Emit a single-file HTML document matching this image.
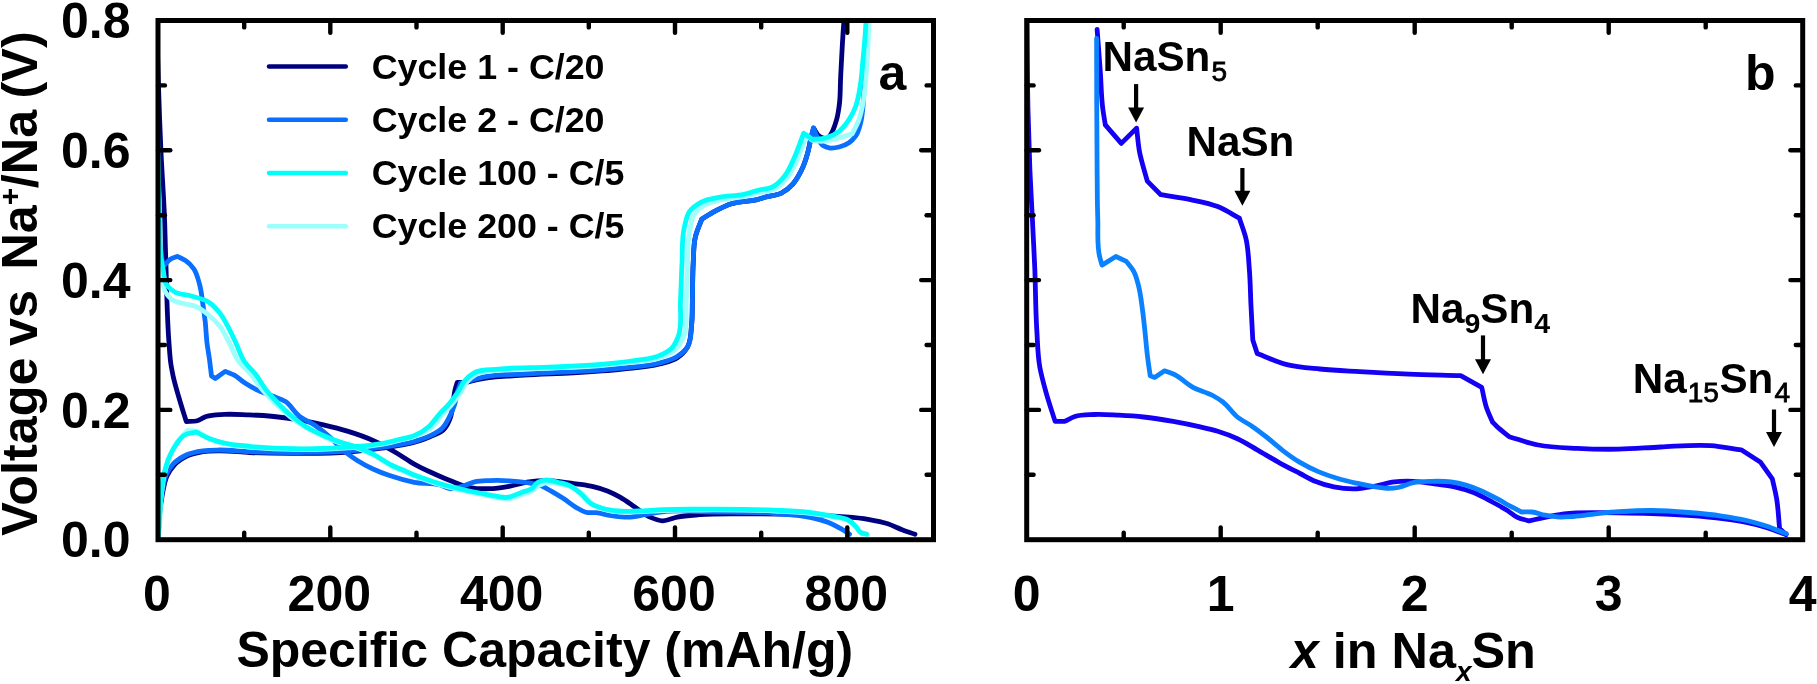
<!DOCTYPE html>
<html lang="en">
<head>
<meta charset="utf-8">
<title>Voltage profiles of Sn anodes in Na cells</title>
<style>
html,body{margin:0;padding:0;background:#fff;}
body{width:1817px;height:684px;overflow:hidden;}
svg{display:block;filter:blur(0.55px);}
text{font-family:"Liberation Sans",Arial,Helvetica,sans-serif;font-weight:bold;fill:#000;}
.tk{font-size:50px;}
.ax{font-size:50px;}
.lg{font-size:35.8px;}
.an{font-size:42.2px;}
.sb{font-size:28px;font-weight:normal;stroke:#000;stroke-width:0.8px;}
.sbb{font-size:28.5px;font-weight:bold;}
</style>
</head>
<body>
<svg width="1817" height="684" viewBox="0 0 1817 684">
<rect x="0" y="0" width="1817" height="684" fill="#fff"/>
<g id="panel-a">
<clipPath id="clipA"><rect x="158.0" y="20.5" width="775.5" height="519.2"/></clipPath>
<g clip-path="url(#clipA)">
<path d="M156.5 20.0C157.2 42.0 157.8 64.0 158.5 86.0C159.2 107.3 159.9 128.7 160.9 150.0C161.9 171.7 163.5 193.3 164.4 215.0C165.0 229.0 165.2 243.0 165.7 257.0C166.7 285.7 166.8 314.4 169.0 343.0C169.5 349.6 169.8 356.2 170.7 362.8C171.3 367.2 172.2 371.6 173.1 376.0C174.7 383.3 176.8 390.4 178.9 397.5C181.2 405.5 183.8 413.5 186.3 421.5C189.6 421.3 193.1 421.7 196.3 421.0C199.8 420.2 202.8 417.6 206.2 416.5C211.9 414.7 218.3 414.8 224.3 414.4C232.5 413.9 240.8 414.6 249.1 414.9C257.4 415.2 265.7 415.7 273.9 416.5C282.2 417.3 290.5 418.4 298.7 419.8C307.0 421.2 315.3 422.9 323.5 424.8C331.8 426.7 340.1 428.8 348.2 431.4C356.6 434.0 365.0 436.9 373.0 440.5C381.5 444.3 389.7 448.9 397.8 453.7C403.4 457.0 408.6 460.9 414.3 464.1C419.7 467.1 425.2 469.7 430.8 472.3C437.1 475.2 443.5 478.1 450.0 480.6C456.5 483.1 462.9 486.2 469.7 487.5C476.1 488.8 482.9 488.9 489.4 488.7C496.0 488.5 502.7 487.4 509.2 486.3C515.9 485.1 522.3 482.7 529.0 481.8C536.3 480.8 543.8 480.6 551.2 480.8C559.5 481.1 567.7 482.6 575.9 483.8C581.7 484.7 587.5 485.3 593.2 486.7C598.2 487.9 603.2 489.3 608.0 491.2C612.3 492.9 616.4 495.1 620.4 497.4C625.5 500.3 630.3 504.0 635.2 507.3C640.1 510.6 644.6 514.7 650.0 517.1C653.9 518.8 658.2 520.6 662.4 520.8C667.3 521.0 672.2 518.1 677.2 517.1C684.5 515.7 692.1 515.3 699.5 514.7C716.1 513.4 732.8 513.9 749.4 513.9C765.9 513.9 782.3 513.9 798.8 514.4C812.0 514.8 825.2 515.4 838.4 516.4C848.3 517.2 858.3 517.6 868.0 519.3C874.7 520.5 881.4 521.7 887.8 523.8C892.9 525.5 897.6 528.1 902.6 530.0C906.7 531.5 910.9 532.8 915.0 534.2" fill="none" stroke="#00007f" stroke-width="4.8" stroke-linejoin="round" stroke-linecap="round"/>
<path d="M158.0 539.0C158.8 528.3 159.0 517.6 160.4 507.0C161.1 502.0 161.8 497.0 162.8 492.0C163.9 486.6 164.7 480.9 167.0 476.0C168.7 472.3 171.1 468.6 173.8 465.6C177.3 461.7 182.1 458.5 186.8 456.2C191.8 453.8 197.6 452.6 203.2 451.7C208.6 450.8 214.2 450.9 219.7 450.8C229.6 450.7 239.5 452.1 249.4 452.5C265.9 453.2 282.5 453.4 299.0 453.3C315.5 453.2 332.1 453.3 348.5 452.0C359.6 451.1 370.6 449.8 381.6 448.2C392.7 446.6 403.9 445.5 414.6 442.3C419.8 440.7 425.0 438.9 430.0 436.7C434.6 434.7 440.0 433.2 443.5 429.8C447.0 426.4 449.2 421.2 450.8 416.5C452.2 412.2 452.3 407.5 453.0 403.0C453.7 398.7 454.0 394.3 455.0 390.0C455.6 387.4 456.5 384.9 457.3 382.3C459.6 382.4 462.0 382.6 464.3 382.5C468.3 382.3 472.1 380.7 476.0 379.9C478.7 379.4 481.3 378.9 484.0 378.4C497.0 376.2 510.3 376.1 523.5 375.2C540.0 374.1 556.5 373.8 573.0 372.8C589.5 371.8 606.0 370.8 622.4 369.0C634.8 367.6 647.5 367.3 659.5 364.0C665.5 362.3 672.3 361.3 677.3 357.8C681.2 355.1 685.0 351.2 687.4 347.2C691.2 340.9 690.8 332.3 691.6 324.7C692.5 316.5 692.2 308.2 692.4 300.0C692.7 287.8 692.5 275.6 693.2 263.5C693.7 254.5 693.3 245.1 695.5 236.4C697.0 230.5 699.7 224.9 701.8 219.1C705.9 216.6 709.9 214.0 714.1 211.7C719.7 208.7 725.4 205.8 731.4 203.8C740.0 200.9 749.8 201.9 758.6 199.3C760.7 198.7 762.7 197.9 764.8 197.3C770.2 195.7 776.4 195.7 781.3 193.2C785.6 191.0 789.6 187.7 792.8 184.1C796.2 180.3 798.8 175.5 801.1 170.9C804.0 165.2 806.0 159.0 807.7 152.8C809.1 147.9 809.8 142.8 811.0 137.9C811.8 134.6 812.7 131.3 813.5 128.0C815.4 130.7 816.7 134.3 819.3 136.2C821.6 137.9 824.8 138.4 827.5 139.5C829.2 136.8 831.1 134.2 832.5 131.3C834.3 127.6 835.5 123.6 836.6 119.7C837.8 115.4 838.4 110.9 839.1 106.5C840.6 96.4 840.1 86.2 840.7 76.0C841.6 58.7 842.4 41.3 843.7 24.0C843.8 22.7 843.9 21.3 844.0 20.0" fill="none" stroke="#00007f" stroke-width="4.8" stroke-linejoin="round" stroke-linecap="round"/>
<path d="M156.0 20.0C156.5 53.3 157.0 86.7 157.5 120.0C157.8 140.7 157.9 161.3 158.5 182.0C158.8 193.0 159.3 204.0 159.7 215.0C160.2 228.0 158.9 241.2 161.0 254.0C161.5 257.1 162.2 260.1 162.8 263.2L164.9 264.7C166.6 263.0 168.0 260.9 170.0 259.5C172.1 258.0 174.9 257.4 177.3 256.4C180.0 257.8 183.0 258.9 185.5 260.6C188.7 262.8 191.6 265.7 193.8 268.8C196.9 273.3 198.1 279.1 199.6 284.5C201.4 290.9 201.9 297.7 202.9 304.3C203.8 310.4 204.6 316.4 205.3 322.5C206.0 329.3 206.2 336.2 207.0 343.0C207.7 348.5 208.7 354.0 209.5 359.5C210.2 365.0 210.8 370.5 211.5 376.0L215.3 378.5L225.2 371.4C228.2 372.7 231.4 373.6 234.3 375.2C237.9 377.2 240.8 380.3 244.2 382.6C248.4 385.4 252.8 387.9 257.4 390.1C262.2 392.4 267.4 393.9 272.3 395.9C276.7 397.7 281.6 399.0 285.5 401.6C290.8 405.1 293.7 411.7 298.7 415.7C303.6 419.7 309.9 422.0 315.2 425.6C321.0 429.6 326.6 433.9 331.7 438.8C334.6 441.6 337.1 444.9 340.0 447.6C345.0 452.3 350.7 456.3 356.5 460.0C361.8 463.4 367.3 466.4 373.0 469.0C378.4 471.5 384.0 473.7 389.6 475.6C397.7 478.4 405.9 480.7 414.3 482.3C422.7 483.9 431.8 482.6 440.0 485.0C443.4 486.0 446.5 488.3 449.9 488.7C453.9 489.1 458.2 487.4 462.2 486.3C466.4 485.1 470.3 482.8 474.6 481.8C479.4 480.7 484.5 480.8 489.4 480.6C496.0 480.3 502.6 480.4 509.2 480.8C515.0 481.1 520.8 481.6 526.5 482.5C531.5 483.3 536.7 483.9 541.3 485.8C544.8 487.2 547.9 489.3 551.2 491.2C555.4 493.6 559.5 496.0 563.5 498.6C567.7 501.3 571.5 504.8 575.9 507.3C579.1 509.1 582.3 511.3 585.8 512.2C588.9 513.0 592.4 512.4 595.7 512.7C601.5 513.3 607.2 515.2 613.0 515.9C617.9 516.5 622.9 517.2 627.8 517.1C633.6 517.0 639.3 515.6 645.1 514.7C650.9 513.8 656.6 512.4 662.4 511.8C670.6 510.9 678.9 510.9 687.1 511.0C691.4 511.1 695.7 511.3 700.0 511.5C724.7 512.4 749.5 511.5 774.1 513.5C786.5 514.5 799.1 514.9 811.2 517.6C817.0 518.9 823.0 520.3 828.5 522.5C832.7 524.2 836.8 526.4 840.8 528.7C843.8 530.4 846.6 532.4 849.5 534.2" fill="none" stroke="#0a6eff" stroke-width="4.8" stroke-linejoin="round" stroke-linecap="round"/>
<path d="M158.0 539.0C158.7 527.8 158.8 516.5 160.2 505.4C160.8 500.4 161.4 495.4 162.4 490.5C163.5 484.9 164.1 479.0 166.5 474.0C168.2 470.5 170.4 467.0 173.1 464.1C176.7 460.3 181.5 457.2 186.3 455.0C191.4 452.7 197.3 451.7 202.9 450.9C208.3 450.1 213.9 450.1 219.4 450.0C229.3 449.9 239.2 451.3 249.1 451.7C265.6 452.4 282.2 452.6 298.7 452.5C315.2 452.4 331.8 452.5 348.2 451.2C359.3 450.3 370.3 449.0 381.3 447.4C392.4 445.8 403.6 444.7 414.3 441.5C419.5 439.9 424.8 438.3 429.7 435.9C434.0 433.8 438.7 431.8 442.0 428.5C445.4 425.2 447.6 420.4 449.8 416.1C451.6 412.5 453.2 408.8 454.5 405.0C455.9 400.8 456.3 396.3 457.5 392.0C458.4 389.0 459.5 386.0 460.5 383.0C463.4 382.3 466.3 381.6 469.2 380.8C474.1 379.5 479.0 377.9 484.0 376.8C496.9 374.1 510.3 374.9 523.5 374.1C540.0 373.1 556.5 372.7 573.0 371.7C589.5 370.7 606.0 369.8 622.4 368.0C634.8 366.6 647.5 366.4 659.5 363.0C665.4 361.3 671.7 360.0 676.8 356.8C680.8 354.2 685.1 350.8 687.6 346.9C691.5 340.9 690.8 332.2 691.6 324.7C692.5 316.5 692.2 308.2 692.4 300.0C692.7 287.8 692.5 275.6 693.2 263.5C693.7 254.5 693.3 245.1 695.5 236.4C697.0 230.5 699.7 224.9 701.8 219.1C705.9 216.6 709.9 214.0 714.1 211.7C719.7 208.7 725.4 205.8 731.4 203.8C740.0 200.9 749.8 201.9 758.6 199.3C760.7 198.7 762.7 197.9 764.8 197.3C770.2 195.7 776.4 195.7 781.3 193.2C785.6 191.0 789.6 187.7 792.8 184.1C796.2 180.3 798.8 175.5 801.1 170.9C804.0 165.2 806.0 159.0 807.7 152.8C809.1 147.9 809.8 142.8 811.0 137.9C811.8 134.6 812.7 131.3 813.5 128.0C814.9 131.3 815.9 134.8 817.6 137.9C819.0 140.5 820.3 143.6 822.6 145.3C824.4 146.6 826.9 147.4 829.2 147.8C832.4 148.4 835.9 147.8 839.1 147.0C842.5 146.2 846.1 144.8 849.0 142.8C851.5 141.1 853.8 138.7 855.6 136.2C858.3 132.4 859.4 127.5 860.6 123.0C862.0 117.7 862.4 112.0 863.0 106.5C863.5 101.0 863.6 95.5 863.9 90.0C864.4 80.0 864.6 70.0 865.0 60.0C865.5 48.3 866.0 36.7 866.5 25.0C866.6 23.3 866.6 21.7 866.7 20.0" fill="none" stroke="#0a6eff" stroke-width="4.8" stroke-linejoin="round" stroke-linecap="round"/>
<path d="M156.0 20.0C156.4 53.3 156.8 86.7 157.3 120.0C157.6 140.7 157.7 161.3 158.3 182.0C158.6 193.0 159.2 204.0 159.5 215.0C159.9 229.0 159.5 243.0 160.5 257.0C160.9 262.7 161.3 268.4 162.0 274.0C162.7 279.7 162.3 286.0 164.9 291.0C166.5 294.1 168.8 297.3 171.5 299.4C174.6 301.7 179.1 302.3 183.0 303.5C187.4 304.8 192.2 305.0 196.3 306.8C200.4 308.6 204.2 311.5 207.8 314.3C212.0 317.7 216.1 321.6 219.4 325.8C223.5 330.9 226.2 337.2 229.3 343.0C232.5 349.0 234.6 355.7 238.5 361.2C242.0 366.1 247.1 369.8 251.0 374.4C255.0 379.1 258.1 384.6 262.0 389.3C266.3 394.5 271.1 399.4 276.0 404.1C280.5 408.4 285.1 412.6 290.0 416.5C294.9 420.4 300.1 424.1 305.5 427.3C311.5 430.9 317.9 433.9 324.3 436.7C329.7 439.1 335.2 441.4 340.8 443.3C346.2 445.2 351.9 446.2 357.3 448.2C362.9 450.2 368.5 452.7 373.8 455.4C379.5 458.3 384.7 462.3 390.4 465.3C395.7 468.1 401.4 470.3 406.9 472.7C412.4 475.0 417.8 477.3 423.4 479.3C429.1 481.4 434.9 483.3 440.8 485.0C448.9 487.4 457.2 489.3 465.5 491.2C473.7 493.0 481.9 494.6 490.2 496.1C496.1 497.2 502.2 499.5 508.0 499.0C512.9 498.5 517.7 496.1 522.5 494.4C525.8 493.2 529.4 492.5 532.4 490.7C534.8 489.3 536.6 486.9 539.0 485.5C541.2 484.3 543.6 483.1 546.0 482.6C550.3 481.6 555.1 483.2 559.6 484.0C564.0 484.8 568.5 485.7 572.5 487.5C576.3 489.2 579.7 491.9 583.0 494.5C586.6 497.4 589.2 501.7 593.0 504.3C596.4 506.6 600.5 508.3 604.5 509.5C608.9 510.9 613.7 511.4 618.4 511.8C624.9 512.4 631.6 512.0 638.2 511.8C646.4 511.6 654.7 510.8 662.9 510.5C675.4 510.0 688.0 510.1 700.5 510.0C725.2 509.9 749.9 509.8 774.6 511.0C787.0 511.6 799.4 511.9 811.7 513.5C819.1 514.5 826.6 515.6 833.9 517.2C838.9 518.3 844.5 518.4 848.8 520.9C851.5 522.5 854.0 524.8 856.2 527.1C858.0 529.0 859.0 531.9 861.1 533.2C862.8 534.3 865.2 534.4 867.3 535.0" fill="none" stroke="#9cfffb" stroke-width="4.8" stroke-linejoin="round" stroke-linecap="round"/>
<path d="M158.0 539.0C158.4 535.5 158.8 532.0 159.2 528.5C160.2 518.6 160.0 508.7 161.0 498.8C161.9 490.5 162.6 482.1 164.5 474.0C166.0 467.4 167.8 460.7 170.5 454.5C172.5 450.0 174.7 445.5 177.5 441.5C180.3 437.5 184.2 434.2 187.5 430.5C190.8 430.8 194.4 430.6 197.5 431.5C201.7 432.8 205.0 436.6 209.0 438.5C214.0 440.9 219.6 442.3 225.0 443.6C232.9 445.5 241.0 446.2 249.1 447.1C260.1 448.3 271.2 448.8 282.2 449.2C293.2 449.6 304.2 449.7 315.2 449.5C326.2 449.3 337.2 448.8 348.2 447.9C359.3 447.0 370.4 446.3 381.3 444.3C387.6 443.2 393.8 441.6 400.0 440.1C404.9 438.9 409.9 438.0 414.6 436.3C420.3 434.2 426.3 431.8 431.0 428.0C435.1 424.6 437.9 419.5 441.5 415.5C444.6 412.1 448.0 409.0 451.0 405.5C454.4 401.5 457.5 397.3 460.3 393.0C462.5 389.6 463.9 385.6 466.5 382.5C469.1 379.4 472.5 376.5 476.0 374.5C482.5 370.8 491.2 371.3 498.8 370.2C515.1 367.9 531.8 368.9 548.3 368.2C564.8 367.5 581.3 367.2 597.7 365.8C610.1 364.8 622.4 363.5 634.7 361.8C643.3 360.6 652.4 360.5 660.5 357.5C665.3 355.7 670.7 353.8 674.5 350.5C678.0 347.4 680.7 342.7 682.8 338.5C688.4 327.3 685.4 312.9 686.2 300.0C686.9 287.9 686.8 275.7 687.5 263.5C688.1 251.8 687.5 239.9 690.0 228.5C691.0 223.8 691.5 218.4 694.0 214.5C696.4 210.7 700.6 207.5 704.5 205.2C709.2 202.4 715.1 201.4 720.5 200.0C728.3 198.0 736.6 198.3 744.5 196.5C748.9 195.5 753.2 194.1 757.5 193.0C763.3 191.5 769.9 191.6 775.0 188.8C779.8 186.2 784.0 181.8 787.5 177.5C791.1 173.0 793.5 167.3 796.0 162.0C798.5 156.8 800.4 151.4 802.5 146.0C804.0 142.3 805.4 138.7 806.8 135.0C808.5 136.7 810.0 139.0 812.0 140.0C814.1 141.1 816.9 141.0 819.3 141.2C825.9 141.7 832.6 139.5 839.1 137.9C843.6 136.8 847.9 135.2 852.3 133.8C854.5 129.1 857.2 124.6 858.9 119.7C860.8 114.4 862.0 108.8 863.0 103.2C863.8 98.8 864.2 94.4 864.7 90.0C865.9 79.9 866.5 69.7 867.2 59.5C868.0 48.0 868.3 36.4 868.8 24.9C868.9 23.3 868.9 21.6 869.0 20.0" fill="none" stroke="#9cfffb" stroke-width="4.8" stroke-linejoin="round" stroke-linecap="round"/>
<path d="M156.0 20.0C156.5 53.3 157.0 86.7 157.5 120.0C157.8 140.7 157.9 161.3 158.5 182.0C158.8 193.0 159.3 204.0 159.7 215.0C160.2 229.0 158.9 243.2 160.9 257.0C161.5 261.2 162.4 265.4 163.2 269.6C164.2 274.6 163.9 280.4 166.5 284.5C168.4 287.5 171.7 290.1 174.8 292.0C179.5 294.8 185.9 294.4 191.3 296.0C197.5 297.9 204.3 299.1 209.5 302.7C213.3 305.3 216.5 309.0 219.4 312.6C222.6 316.6 225.1 321.3 227.6 325.8C230.7 331.4 233.2 337.2 235.9 343.0C238.7 349.0 240.6 355.7 244.2 361.2C247.4 366.0 252.2 369.8 255.7 374.4C259.3 379.1 262.0 384.6 265.6 389.3C269.6 394.5 274.3 399.4 278.9 404.1C283.1 408.4 287.5 412.7 292.1 416.5C296.8 420.4 301.7 424.1 306.9 427.3C312.2 430.5 317.9 433.0 323.5 435.5C328.9 437.9 334.4 440.2 340.0 442.1C345.4 444.0 351.1 445.0 356.5 447.0C362.1 449.0 367.7 451.5 373.0 454.2C378.7 457.1 383.9 461.1 389.6 464.1C394.9 466.9 400.6 469.1 406.1 471.5C411.6 473.8 417.0 476.1 422.6 478.1C428.3 480.2 434.1 482.1 440.0 483.8C448.1 486.2 456.4 488.1 464.7 490.0C472.9 491.8 481.1 493.5 489.4 494.9C495.1 495.9 501.1 498.0 506.7 497.4C511.7 496.9 516.6 494.2 521.5 492.4C524.8 491.2 528.5 490.6 531.4 488.7C533.8 487.1 535.2 483.9 537.6 482.5C539.8 481.2 542.5 480.4 545.0 480.1C549.4 479.5 554.1 481.4 558.6 482.5C562.8 483.5 567.2 484.3 571.0 486.3C574.6 488.2 577.7 491.0 580.8 493.7C584.3 496.7 586.9 501.0 590.7 503.5C594.4 505.9 598.8 507.3 603.1 508.5C607.9 509.9 612.9 510.5 617.9 511.0C624.4 511.6 631.1 511.2 637.7 511.0C645.9 510.8 654.2 510.0 662.4 509.7C674.9 509.2 687.5 509.3 700.0 509.2C724.7 509.1 749.4 509.0 774.1 510.2C786.5 510.8 798.9 511.1 811.2 512.7C818.6 513.7 826.1 514.8 833.4 516.4C838.4 517.5 844.0 517.6 848.3 520.1C851.0 521.7 853.5 524.0 855.7 526.3C857.5 528.2 858.5 531.1 860.6 532.4C862.3 533.5 864.7 533.6 866.8 534.2" fill="none" stroke="#00fff8" stroke-width="4.8" stroke-linejoin="round" stroke-linecap="round"/>
<path d="M158.0 539.0C158.3 535.5 158.7 532.0 159.0 528.5C159.8 518.6 159.7 508.7 160.7 498.8C161.5 490.5 162.1 482.1 164.0 474.0C165.5 467.8 167.2 461.6 169.8 455.8C171.7 451.7 173.8 447.7 176.4 444.1C178.8 440.8 181.3 437.0 184.7 435.0C188.0 433.1 192.4 433.1 196.3 432.2C200.1 434.1 203.8 436.4 207.8 438.0C213.1 440.2 218.7 441.7 224.3 443.0C232.4 444.9 240.8 445.4 249.1 446.3C260.1 447.4 271.2 448.0 282.2 448.4C293.2 448.8 304.2 448.9 315.2 448.7C326.2 448.5 337.2 448.0 348.2 447.1C359.3 446.2 370.4 445.5 381.3 443.5C387.6 442.4 393.8 440.8 400.0 439.3C404.9 438.1 410.0 437.4 414.6 435.5C419.8 433.3 424.8 430.2 429.0 426.5C433.0 423.0 435.9 418.0 439.5 414.0C442.6 410.6 446.0 407.5 449.0 404.0C452.4 400.0 455.5 395.8 458.3 391.5C460.5 388.1 461.9 384.1 464.5 381.0C467.2 377.8 470.6 374.8 474.1 372.8C481.1 368.8 490.5 370.1 498.8 369.2C515.2 367.4 531.8 368.0 548.3 367.2C564.8 366.5 581.3 366.1 597.7 364.7C610.1 363.6 622.5 362.5 634.7 360.5C643.0 359.1 651.9 359.0 659.5 355.6C663.8 353.7 668.6 351.6 671.8 348.2C674.6 345.2 676.4 340.9 678.0 337.1C682.7 325.9 679.8 312.4 680.5 300.0C681.2 287.8 681.3 275.7 682.0 263.5C682.7 251.2 681.5 238.4 684.5 226.5C685.8 221.5 686.6 215.8 689.4 211.7C692.3 207.5 697.2 204.2 701.8 201.8C707.0 199.1 713.3 198.5 719.1 197.3C727.2 195.7 735.7 196.2 743.8 194.4C748.1 193.4 752.2 191.9 756.5 190.7C762.0 189.2 768.2 189.3 773.0 186.6C777.5 184.1 781.4 180.0 784.6 175.9C788.1 171.5 790.4 166.1 792.8 161.0C795.4 155.7 797.4 150.0 799.5 144.5C800.9 140.8 802.2 137.0 803.6 133.3L812.7 139.5C817.1 139.0 821.7 139.1 825.9 137.9C830.6 136.5 835.3 134.3 839.1 131.3C843.0 128.2 846.2 123.9 849.0 119.7C851.7 115.6 853.9 111.1 855.6 106.5C857.7 101.0 858.6 95.1 859.7 89.3C861.6 79.5 862.0 69.4 863.0 59.5C864.1 48.0 865.3 36.5 865.8 24.9C865.9 23.3 865.9 21.6 866.0 20.0" fill="none" stroke="#00fff8" stroke-width="4.8" stroke-linejoin="round" stroke-linecap="round"/>
</g>
<g stroke="#000" stroke-width="4.4" stroke-linecap="round">
<line x1="330.3" y1="539.7" x2="330.3" y2="527.4"/>
<line x1="330.3" y1="20.5" x2="330.3" y2="32.8"/>
<line x1="502.7" y1="539.7" x2="502.7" y2="527.4"/>
<line x1="502.7" y1="20.5" x2="502.7" y2="32.8"/>
<line x1="675.0" y1="539.7" x2="675.0" y2="527.4"/>
<line x1="675.0" y1="20.5" x2="675.0" y2="32.8"/>
<line x1="847.3" y1="539.7" x2="847.3" y2="527.4"/>
<line x1="847.3" y1="20.5" x2="847.3" y2="32.8"/>
<line x1="244.2" y1="539.7" x2="244.2" y2="532.8"/>
<line x1="244.2" y1="20.5" x2="244.2" y2="27.4"/>
<line x1="416.5" y1="539.7" x2="416.5" y2="532.8"/>
<line x1="416.5" y1="20.5" x2="416.5" y2="27.4"/>
<line x1="588.8" y1="539.7" x2="588.8" y2="532.8"/>
<line x1="588.8" y1="20.5" x2="588.8" y2="27.4"/>
<line x1="761.2" y1="539.7" x2="761.2" y2="532.8"/>
<line x1="761.2" y1="20.5" x2="761.2" y2="27.4"/>
<line x1="158.0" y1="85.4" x2="164.9" y2="85.4"/>
<line x1="933.5" y1="85.4" x2="926.6" y2="85.4"/>
<line x1="158.0" y1="150.3" x2="170.3" y2="150.3"/>
<line x1="933.5" y1="150.3" x2="921.2" y2="150.3"/>
<line x1="158.0" y1="215.2" x2="164.9" y2="215.2"/>
<line x1="933.5" y1="215.2" x2="926.6" y2="215.2"/>
<line x1="158.0" y1="280.1" x2="170.3" y2="280.1"/>
<line x1="933.5" y1="280.1" x2="921.2" y2="280.1"/>
<line x1="158.0" y1="345.0" x2="164.9" y2="345.0"/>
<line x1="933.5" y1="345.0" x2="926.6" y2="345.0"/>
<line x1="158.0" y1="409.9" x2="170.3" y2="409.9"/>
<line x1="933.5" y1="409.9" x2="921.2" y2="409.9"/>
<line x1="158.0" y1="474.8" x2="164.9" y2="474.8"/>
<line x1="933.5" y1="474.8" x2="926.6" y2="474.8"/>
</g>
<rect x="158.0" y="20.5" width="775.5" height="519.2" fill="none" stroke="#000" stroke-width="5.0" stroke-linejoin="miter"/>
<line x1="269" y1="66.6" x2="345.8" y2="66.6" stroke="#00007f" stroke-width="4.5" stroke-linecap="round"/>
<text class="lg" x="371.7" y="78.8">Cycle 1 - C/20</text>
<line x1="269" y1="119.8" x2="345.8" y2="119.8" stroke="#0a6eff" stroke-width="4.5" stroke-linecap="round"/>
<text class="lg" x="371.7" y="132.0">Cycle 2 - C/20</text>
<line x1="269" y1="173.0" x2="345.8" y2="173.0" stroke="#00fff8" stroke-width="4.5" stroke-linecap="round"/>
<text class="lg" x="371.7" y="185.2">Cycle 100 - C/5</text>
<line x1="269" y1="226.2" x2="345.8" y2="226.2" stroke="#9cfffb" stroke-width="4.5" stroke-linecap="round"/>
<text class="lg" x="371.7" y="238.4">Cycle 200 - C/5</text>
<text class="tk" x="130.5" y="38.1" text-anchor="end">0.8</text>
<text class="tk" x="130.5" y="167.9" text-anchor="end">0.6</text>
<text class="tk" x="130.5" y="297.7" text-anchor="end">0.4</text>
<text class="tk" x="130.5" y="427.5" text-anchor="end">0.2</text>
<text class="tk" x="130.5" y="557.3" text-anchor="end">0.0</text>
<text class="tk" x="157.0" y="610.5" text-anchor="middle">0</text>
<text class="tk" x="329.3" y="610.5" text-anchor="middle">200</text>
<text class="tk" x="501.7" y="610.5" text-anchor="middle">400</text>
<text class="tk" x="674.0" y="610.5" text-anchor="middle">600</text>
<text class="tk" x="846.3" y="610.5" text-anchor="middle">800</text>
<text class="ax" x="544.8" y="667" text-anchor="middle">Specific Capacity (mAh/g)</text>
<text class="ax" style="font-size:50.4px" transform="translate(37.2 283.5) rotate(-90)" text-anchor="middle">Voltage<tspan dx="-2.5"> vs</tspan><tspan dx="6.3"> Na</tspan><tspan font-size="30" dy="-17">+</tspan><tspan dy="17" dx="-0.5">/Na</tspan><tspan dx="-2.7"> (V)</tspan></text>
<text class="tk" x="892.5" y="90.2" text-anchor="middle">a</text>
</g>
<g id="panel-b">
<clipPath id="clipB"><rect x="1026.7" y="20.5" width="776.0" height="519.2"/></clipPath>
<g clip-path="url(#clipB)">
<path d="M1027.0 20.0C1027.3 50.0 1027.3 80.0 1028.0 110.0C1028.5 130.0 1029.1 150.0 1029.9 170.0C1030.6 186.5 1031.6 202.9 1032.4 219.4C1033.2 235.9 1034.1 252.3 1034.8 268.8C1035.6 289.2 1035.5 309.6 1036.8 330.0C1037.6 342.4 1037.6 354.9 1039.8 367.1C1041.3 375.4 1043.6 383.6 1045.9 391.8C1048.6 401.8 1052.0 411.5 1055.1 421.4L1064.5 421.4C1068.0 419.8 1071.3 417.7 1074.9 416.5C1080.9 414.5 1087.7 414.8 1094.1 414.5C1102.3 414.1 1110.6 414.8 1118.8 415.2C1127.1 415.6 1135.4 416.1 1143.6 417.0C1153.5 418.1 1163.4 419.7 1173.2 421.4C1181.5 422.9 1189.7 424.5 1197.9 426.4C1204.5 427.9 1211.2 429.3 1217.7 431.3C1224.4 433.4 1231.0 435.8 1237.4 438.7C1244.3 441.9 1250.6 446.0 1257.2 449.8C1264.7 454.1 1272.0 458.7 1279.5 462.8C1286.3 466.5 1293.2 470.0 1300.0 473.5C1305.0 476.1 1309.9 479.2 1315.1 481.3C1321.1 483.8 1327.5 485.6 1333.9 486.9C1341.3 488.4 1349.1 489.1 1356.6 488.8C1362.9 488.5 1369.2 487.1 1375.4 486.0C1381.7 484.8 1387.9 482.7 1394.3 481.9C1400.5 481.1 1406.9 481.1 1413.1 481.3C1420.7 481.6 1428.2 483.1 1435.8 484.1C1442.1 485.0 1448.4 485.5 1454.6 486.9C1461.0 488.3 1467.4 490.2 1473.5 492.6C1480.0 495.2 1486.1 498.7 1492.3 502.0C1497.4 504.7 1502.5 507.4 1507.4 510.5C1510.6 512.6 1513.5 515.4 1516.9 517.1C1520.7 519.0 1525.0 519.6 1529.1 520.9C1533.2 520.0 1537.3 519.0 1541.4 518.1C1548.9 516.5 1556.4 514.9 1564.0 513.9C1575.9 512.4 1588.0 512.7 1600.0 512.6C1606.3 512.6 1612.6 512.7 1618.9 512.8C1637.4 513.1 1656.0 513.4 1674.5 514.5C1688.4 515.3 1702.4 516.1 1716.2 517.8C1725.5 518.9 1734.8 520.1 1744.0 522.0C1751.5 523.5 1758.9 525.3 1766.2 527.5C1772.9 529.5 1779.4 532.2 1786.0 534.5" fill="none" stroke="#1400f2" stroke-width="4.8" stroke-linejoin="round" stroke-linecap="round"/>
<path d="M1786.0 534.5L1779.6 528.5C1778.6 518.7 1778.3 508.9 1776.7 499.2C1775.6 492.3 1773.8 485.6 1772.3 478.8L1760.6 462.3L1741.2 449.8C1731.0 448.4 1720.8 446.4 1710.6 445.6C1694.0 444.4 1677.3 446.3 1660.6 447.0C1646.7 447.6 1632.8 449.0 1618.9 449.2C1605.0 449.4 1591.1 449.2 1577.2 448.4C1564.2 447.7 1551.0 447.5 1538.3 445.0C1528.4 443.1 1518.9 439.5 1509.2 436.7C1504.8 433.0 1500.2 429.7 1496.1 425.7C1494.9 424.5 1493.7 423.2 1492.5 422.0C1490.6 417.4 1488.3 413.0 1486.7 408.3C1484.4 401.5 1483.4 394.3 1481.7 387.3L1460.7 375.6C1443.4 375.1 1426.1 374.9 1408.8 374.2C1392.3 373.6 1375.9 372.7 1359.4 371.7C1346.3 370.9 1333.1 370.4 1320.0 369.0C1308.9 367.9 1297.6 367.3 1286.9 364.6C1276.7 362.0 1267.1 357.2 1257.2 353.5L1252.8 339.9C1252.2 328.6 1251.6 317.2 1251.0 305.9C1250.4 293.5 1250.3 281.1 1249.3 268.8C1248.5 258.9 1248.3 248.8 1246.1 239.2C1244.5 232.1 1241.6 225.2 1239.4 218.2C1232.2 214.3 1225.3 209.6 1217.7 206.6C1209.1 203.2 1199.6 201.6 1190.5 199.7C1180.7 197.6 1170.7 196.4 1160.8 194.7L1147.3 181.1C1146.1 176.8 1144.8 172.4 1143.6 168.1C1142.3 163.2 1140.8 158.3 1139.8 153.3C1138.1 145.0 1137.7 136.5 1136.6 128.1L1121.3 143.4L1105.3 124.9C1104.5 119.5 1103.5 114.2 1102.8 108.8C1101.2 96.5 1101.2 84.1 1100.3 71.8C1099.3 57.6 1098.2 43.5 1097.1 29.3" fill="none" stroke="#1400f2" stroke-width="4.8" stroke-linejoin="round" stroke-linecap="round"/>
<path d="M1096.6 38.4C1096.8 82.3 1096.6 126.1 1097.1 170.0C1097.3 186.5 1097.2 202.9 1097.8 219.4C1098.2 231.8 1096.8 244.5 1099.6 256.5C1100.3 259.4 1101.2 262.2 1102.0 265.1L1115.9 256.5L1126.3 261.4C1128.8 264.7 1131.8 267.7 1133.7 271.3C1136.2 275.8 1137.3 281.1 1138.6 286.1C1140.5 293.4 1141.3 300.9 1142.3 308.4C1143.3 315.6 1144.0 322.8 1144.8 330.0C1145.7 338.2 1146.3 346.5 1147.3 354.7C1148.1 361.7 1149.2 368.7 1150.2 375.7L1154.7 377.4L1164.6 370.8C1167.9 372.0 1171.3 373.0 1174.4 374.5C1181.2 377.7 1186.4 383.7 1193.0 387.3C1199.2 390.7 1206.5 392.1 1212.7 395.5C1216.1 397.4 1219.5 399.4 1222.6 401.7C1228.2 405.9 1231.9 412.6 1237.4 417.0C1242.0 420.6 1247.5 423.1 1252.3 426.4C1257.4 429.9 1262.3 433.7 1267.1 437.5C1272.1 441.5 1276.8 445.9 1281.9 449.8C1287.7 454.3 1293.7 458.7 1300.0 462.4C1306.0 466.0 1312.4 469.2 1318.9 471.9C1325.0 474.5 1331.3 476.6 1337.7 478.5C1343.9 480.4 1350.3 481.8 1356.6 483.2C1362.8 484.6 1369.1 485.9 1375.4 486.9C1379.2 487.5 1382.9 488.2 1386.7 488.3C1390.5 488.4 1394.4 488.2 1398.1 487.5C1403.2 486.6 1408.0 483.7 1413.1 482.6C1419.2 481.3 1425.7 481.4 1432.0 481.3C1438.3 481.2 1444.7 481.1 1450.9 481.9C1455.9 482.6 1461.0 483.7 1465.9 485.1C1471.0 486.6 1476.1 488.6 1481.0 490.7C1486.8 493.2 1492.4 496.2 1498.0 499.2C1502.5 501.6 1506.7 504.3 1511.2 506.7C1514.6 508.5 1518.1 510.2 1521.6 512.0C1525.0 512.0 1528.5 511.7 1531.9 512.0C1536.4 512.5 1540.7 514.4 1545.1 515.2C1550.1 516.1 1555.1 516.9 1560.2 517.1C1564.6 517.2 1569.0 516.8 1573.4 516.5C1582.3 515.9 1591.1 514.2 1600.0 513.3C1606.3 512.7 1612.6 512.1 1618.9 511.7C1630.0 511.0 1641.2 510.4 1652.3 510.5C1664.3 510.6 1676.4 511.5 1688.4 512.5C1699.5 513.4 1710.7 514.4 1721.7 516.0C1730.1 517.2 1738.5 518.6 1746.7 520.5C1753.3 522.1 1759.8 523.9 1766.2 526.0C1773.0 528.2 1779.5 531.1 1786.2 533.6" fill="none" stroke="#0a82ff" stroke-width="4.8" stroke-linejoin="round" stroke-linecap="round"/>
</g>
<g stroke="#000" stroke-width="4.4" stroke-linecap="round">
<line x1="1220.7" y1="539.7" x2="1220.7" y2="527.4"/>
<line x1="1220.7" y1="20.5" x2="1220.7" y2="32.8"/>
<line x1="1414.7" y1="539.7" x2="1414.7" y2="527.4"/>
<line x1="1414.7" y1="20.5" x2="1414.7" y2="32.8"/>
<line x1="1608.7" y1="539.7" x2="1608.7" y2="527.4"/>
<line x1="1608.7" y1="20.5" x2="1608.7" y2="32.8"/>
<line x1="1123.7" y1="539.7" x2="1123.7" y2="532.8"/>
<line x1="1123.7" y1="20.5" x2="1123.7" y2="27.4"/>
<line x1="1317.7" y1="539.7" x2="1317.7" y2="532.8"/>
<line x1="1317.7" y1="20.5" x2="1317.7" y2="27.4"/>
<line x1="1511.7" y1="539.7" x2="1511.7" y2="532.8"/>
<line x1="1511.7" y1="20.5" x2="1511.7" y2="27.4"/>
<line x1="1705.7" y1="539.7" x2="1705.7" y2="532.8"/>
<line x1="1705.7" y1="20.5" x2="1705.7" y2="27.4"/>
<line x1="1026.7" y1="85.4" x2="1033.6" y2="85.4"/>
<line x1="1802.7" y1="85.4" x2="1795.8" y2="85.4"/>
<line x1="1026.7" y1="150.3" x2="1039.0" y2="150.3"/>
<line x1="1802.7" y1="150.3" x2="1790.4" y2="150.3"/>
<line x1="1026.7" y1="215.2" x2="1033.6" y2="215.2"/>
<line x1="1802.7" y1="215.2" x2="1795.8" y2="215.2"/>
<line x1="1026.7" y1="280.1" x2="1039.0" y2="280.1"/>
<line x1="1802.7" y1="280.1" x2="1790.4" y2="280.1"/>
<line x1="1026.7" y1="345.0" x2="1033.6" y2="345.0"/>
<line x1="1802.7" y1="345.0" x2="1795.8" y2="345.0"/>
<line x1="1026.7" y1="409.9" x2="1039.0" y2="409.9"/>
<line x1="1802.7" y1="409.9" x2="1790.4" y2="409.9"/>
<line x1="1026.7" y1="474.8" x2="1033.6" y2="474.8"/>
<line x1="1802.7" y1="474.8" x2="1795.8" y2="474.8"/>
</g>
<rect x="1026.7" y="20.5" width="776.0" height="519.2" fill="none" stroke="#000" stroke-width="5.0" stroke-linejoin="miter"/>
<text class="tk" x="1026.7" y="610.5" text-anchor="middle">0</text>
<text class="tk" x="1220.7" y="610.5" text-anchor="middle">1</text>
<text class="tk" x="1414.7" y="610.5" text-anchor="middle">2</text>
<text class="tk" x="1608.7" y="610.5" text-anchor="middle">3</text>
<text class="tk" x="1802.7" y="610.5" text-anchor="middle">4</text>
<text class="ax" style="font-size:50.4px" x="1413.3" y="667.7" text-anchor="middle"><tspan font-style="italic">x</tspan> in Na<tspan font-style="italic" font-size="28" dy="13">x</tspan><tspan dy="-13">Sn</tspan></text>
<text class="tk" x="1760.3" y="90.2" text-anchor="middle">b</text>
<text class="an" x="1102.5" y="71.3">NaSn<tspan class="sb" dy="9.3" dx="1.2">5</tspan></text>
<line x1="1136.1" y1="84.1" x2="1136.1" y2="108.4" stroke="#000" stroke-width="4.2"/><polygon points="1128.1,107.4 1144.1,107.4 1136.1,122.4" fill="#000"/>
<text class="an" x="1186.5" y="155.8">NaSn</text>
<line x1="1242.4" y1="168.0" x2="1242.4" y2="191.8" stroke="#000" stroke-width="4.2"/><polygon points="1234.4,190.8 1250.4,190.8 1242.4,205.8" fill="#000"/>
<text class="an" x="1410.5" y="323">Na<tspan class="sbb" dy="9.6">9</tspan><tspan dy="-9.6">Sn</tspan><tspan class="sbb" dy="9.6">4</tspan></text>
<line x1="1483.0" y1="335.4" x2="1483.0" y2="360.2" stroke="#000" stroke-width="4.2"/><polygon points="1475.0,359.2 1491.0,359.2 1483.0,374.2" fill="#000"/>
<text class="an" x="1632.8" y="392.8">Na<tspan class="sb" dy="9.4" dx="1">15</tspan><tspan dy="-9.4" dx="0.5">Sn</tspan><tspan class="sb" dy="9.4" dx="1.2">4</tspan></text>
<line x1="1774.0" y1="409.5" x2="1774.0" y2="433.0" stroke="#000" stroke-width="4.2"/><polygon points="1766.0,432.0 1782.0,432.0 1774.0,447.0" fill="#000"/>
</g>
</svg>
</body>
</html>
